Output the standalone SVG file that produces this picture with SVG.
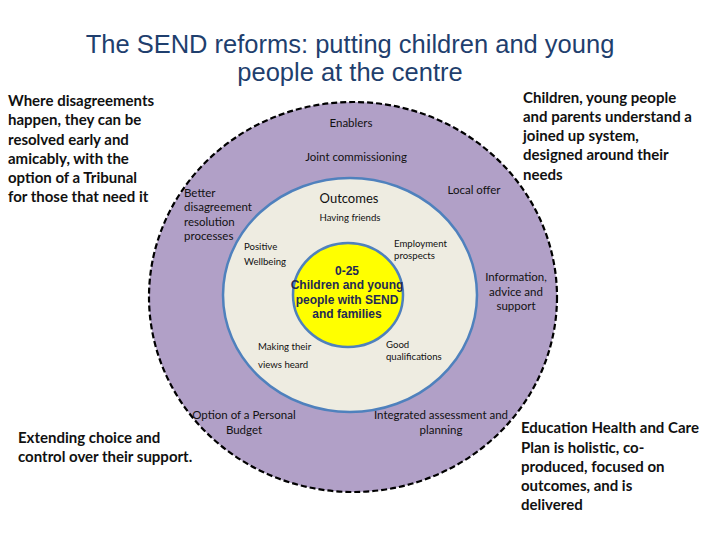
<svg xmlns="http://www.w3.org/2000/svg" width="720" height="540" viewBox="0 0 720 540">
<style>
.title{font-family:"Liberation Sans",Arial,sans-serif;font-size:25.5px;fill:#1f3f6e;text-anchor:middle}
.side{font-family:Lato,"Open Sans",sans-serif;font-size:15px;font-weight:bold;fill:#111}
.ring{font-family:Lato,"Open Sans",sans-serif;font-size:11.5px;fill:#111}
.mid{font-family:Lato,"Open Sans",sans-serif;font-size:9.6px;fill:#111}
.core{font-family:"Liberation Sans",Arial,sans-serif;font-size:12px;font-weight:bold;fill:#1f2a55;text-anchor:middle}
.c{text-anchor:middle}
</style>
<rect width="720" height="540" fill="#ffffff"/>
<g id="title">
<text class="title" x="350" y="53">The SEND reforms: putting children and young</text>
<text class="title" x="350" y="81">people at the centre</text>
</g>
<g id="enablers-ring">
<ellipse cx="353" cy="297" rx="204" ry="195" fill="#b1a0c7" stroke="#000" stroke-width="2.2" stroke-dasharray="6,3"/>
<text class="ring c" x="351" y="127">Enablers</text>
<text class="ring c" x="356" y="161">Joint commissioning</text>
<text class="ring c" x="474" y="194">Local offer</text>
<text class="ring" x="184" y="197">Better</text>
<text class="ring" x="184" y="211">disagreement</text>
<text class="ring" x="184" y="226">resolution</text>
<text class="ring" x="184" y="240">processes</text>
<text class="ring c" x="516" y="281">Information,</text>
<text class="ring c" x="516" y="296">advice and</text>
<text class="ring c" x="516" y="310">support</text>
<text class="ring c" x="244" y="419">Option of a Personal</text>
<text class="ring c" x="244" y="434">Budget</text>
<text class="ring c" x="441" y="419">Integrated assessment and</text>
<text class="ring c" x="441" y="434">planning</text>
</g>
<g id="outcomes-ring">
<ellipse cx="350" cy="295" rx="127" ry="117" fill="#eeece1" stroke="#4f81bd" stroke-width="2.5"/>
<text class="c" x="349" y="203" font-family="Lato,'Open Sans',sans-serif" font-size="13" fill="#111">Outcomes</text>
<text class="mid c" x="350" y="221">Having friends</text>
<text class="mid" x="244" y="250">Positive</text>
<text class="mid" x="244" y="265">Wellbeing</text>
<text class="mid" x="394" y="247">Employment</text>
<text class="mid" x="394" y="259">prospects</text>
<text class="mid" x="258" y="350">Making their</text>
<text class="mid" x="258" y="368">views heard</text>
<text class="mid" x="386" y="348">Good</text>
<text class="mid" x="386" y="360">qualifications</text>
</g>
<g id="core">
<ellipse cx="348" cy="295" rx="55" ry="52" fill="#ffff00" stroke="#4f81bd" stroke-width="2.5"/>
<text class="core" x="347" y="275">0-25</text>
<text class="core" x="347" y="289">Children and young</text>
<text class="core" x="347" y="304">people with SEND</text>
<text class="core" x="347" y="318">and families</text>
</g>
<g id="note-disagreements">
<text class="side" x="8" y="106">Where disagreements</text>
<text class="side" x="8" y="125">happen, they can be</text>
<text class="side" x="8" y="145">resolved early and</text>
<text class="side" x="8" y="164">amicably, with the</text>
<text class="side" x="8" y="183">option of a Tribunal</text>
<text class="side" x="8" y="202">for those that need it</text>
</g>
<g id="note-joined-up">
<text class="side" x="523" y="103">Children, young people</text>
<text class="side" x="523" y="122">and parents understand a</text>
<text class="side" x="523" y="141">joined up system,</text>
<text class="side" x="523" y="160">designed around their</text>
<text class="side" x="523" y="180">needs</text>
</g>
<g id="note-choice">
<text class="side" x="18" y="443">Extending choice and</text>
<text class="side" x="18" y="462">control over their support.</text>
</g>
<g id="note-ehc">
<text class="side" x="521" y="433">Education Health and Care</text>
<text class="side" x="521" y="453">Plan is holistic, co-</text>
<text class="side" x="521" y="472">produced, focused on</text>
<text class="side" x="521" y="491">outcomes, and is</text>
<text class="side" x="521" y="510">delivered</text>
</g>
<g id="connectors"/>
</svg>
